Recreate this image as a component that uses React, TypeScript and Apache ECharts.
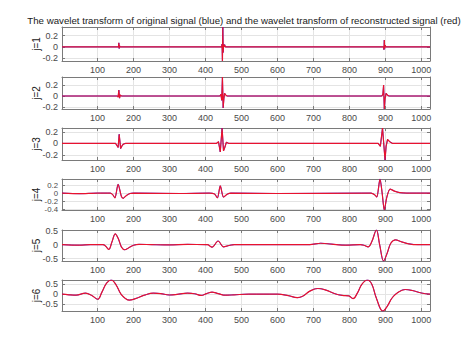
import React, { useEffect, useRef } from 'react';
import * as echarts from 'echarts';

const chartTitle =
  'The wavelet transform of original signal (blue) and the wavelet transform of reconstructed signal (red)';
const levelNames = ['j=1', 'j=2', 'j=3', 'j=4', 'j=5', 'j=6'];
const xTicks = [100, 200, 300, 400, 500, 600, 700, 800, 900, 1000];
const xMin = 1;
const xMax = 1024;

const yMins = [-0.25, -0.24, -0.29, -0.42, -0.58, -0.83];
const yMaxs = [0.35, 0.35, 0.27, 0.35, 0.52, 0.7];
const yTicks1 = [-0.2, 0, 0.2];
const yTicks2 = [-0.2, 0, 0.2];
const yTicks3 = [-0.2, 0, 0.2];
const yTicks4 = [-0.4, -0.2, 0, 0.2];
const yTicks5 = [-0.5, 0, 0.5];
const yTicks6 = [-0.5, 0, 0.5];

const j1: [number, number][] = [
  [1, 0], [158, 0], [159, 0.07], [160, -0.03], [161, 0.02], [162, 0],
  [445, 0], [446, 0.05], [447, -0.25], [448, 0.35], [449, -0.1], [450, 0.04], [451, 0], [453, 0.04], [455, 0],
  [895, 0], [896, -0.05], [897, 0.12], [898, -0.03], [899, 0.03], [901, 0], [1024, 0],
];
const j2: [number, number][] = [
  [1, 0], [155, 0], [157, -0.02], [159, 0.11], [161, -0.04], [163, 0.02], [166, 0],
  [440, 0], [443, 0.03], [445, -0.08], [447, 0.35], [449, -0.22], [451, -0.05], [453, 0.05], [456, 0.02], [460, 0],
  [890, 0], [893, 0.03], [895, 0.2], [897, -0.24], [899, -0.05], [902, 0.05], [905, 0.02], [910, 0], [1024, 0],
];
const j3: [number, number][] = [
  [1, 0], [150, 0], [154, -0.04], [157, -0.07], [160, 0.16], [164, -0.09], [168, -0.04], [172, -0.01], [178, 0],
  [430, 0], [436, 0.03], [441, -0.15], [446, 0.27], [450, -0.13], [453, -0.08], [458, 0.02], [465, 0],
  [880, 0], [886, -0.05], [892, 0.27], [899, -0.29], [902, -0.05], [906, 0.07], [912, 0.03], [920, 0], [1024, 0],
];
const j4: [number, number][] = [
  [1, 0], [50, -0.015], [100, 0], [135, 0], [142, -0.04], [148, -0.12], [157, 0.22], [166, -0.08], [171, -0.13],
  [180, -0.06], [190, -0.01], [200, 0], [330, -0.01], [410, 0], [425, -0.02], [433, -0.12], [441, 0.18],
  [450, -0.1], [460, -0.03], [470, 0], [600, -0.01], [860, 0], [870, -0.04], [876, -0.1], [885, 0.35],
  [891, 0], [897, -0.42], [904, -0.1], [913, 0.1], [925, 0.05], [940, 0.01], [960, 0], [1024, 0],
];
const j5: [number, number][] = [
  [1, 0], [50, -0.02], [80, 0], [115, 0], [122, -0.05], [131, -0.17], [140, 0.1], [149, 0.38], [158, 0.2],
  [166, -0.08], [175, -0.18], [188, -0.1], [200, -0.02], [215, 0.01], [250, 0], [300, -0.01], [350, 0.01],
  [400, 0], [405, 0], [418, -0.09], [435, 0.13], [450, -0.08], [465, -0.03], [480, 0], [600, 0], [650, 0],
  [690, 0], [720, 0.05], [750, 0.02], [790, -0.02], [830, 0], [840, -0.02], [852, -0.08], [862, 0.1],
  [875, 0.52], [884, 0], [895, -0.58], [905, -0.3], [915, 0.05], [928, 0.17], [945, 0.1], [965, 0.03],
  [990, 0], [1024, 0],
];
const j6: [number, number][] = [
  [1, 0], [20, -0.03], [40, -0.05], [66, 0.05], [85, -0.08], [100, -0.25], [112, 0.1], [125, 0.55], [138, 0.7],
  [150, 0.5], [165, 0], [178, -0.22], [188, -0.29], [205, -0.22], [230, -0.05], [255, 0.05], [275, 0.03],
  [300, -0.04], [325, 0], [350, 0.05], [370, 0.02], [388, -0.06], [403, 0.03], [418, 0.1], [435, 0.03],
  [455, -0.05], [480, -0.03], [520, 0], [600, 0], [630, -0.07], [655, -0.17], [670, -0.1], [690, 0.15],
  [712, 0.28], [735, 0.2], [760, 0.02], [780, -0.06], [798, -0.08], [810, -0.22], [822, 0.05], [835, 0.5],
  [850, 0.7], [862, 0.5], [875, -0.2], [893, -0.83], [905, -0.6], [918, -0.2], [932, 0.05], [955, 0.23],
  [975, 0.18], [1000, 0.06], [1024, 0],
];

const levels = [j1, j2, j3, j4, j5, j6];
const yTickSets = [yTicks1, yTicks2, yTicks3, yTicks4, yTicks5, yTicks6];
const smoothFlags = [false, false, false, 0.25, 0.35, 0.4];

export default function App() {
  const ref = useRef<HTMLDivElement>(null);
  useEffect(() => {
    const chart = echarts.init(ref.current!, null, { renderer: 'svg' });
    const tops = [27, 77, 128, 179, 230, 280];
    const heights = [34, 32, 32, 31, 31, 31];
    const yLabelSizes = [9, 9, 9, 7.8, 9, 9];
    const font = 'Liberation Sans, Arial, sans-serif';
    const boxColor = '#7a7a7a';
    const gridColor = '#e4e4e4';
    const labelColor = '#4a4a4a';
    const fmt = (v: number) => String(Math.round(v * 100) / 100);

    const grids: any[] = [];
    const xAxes: any[] = [];
    const yAxes: any[] = [];
    const series: any[] = [];

    levels.forEach((data, i) => {
      const ticks = yTickSets[i];
      const evenTicks = ticks.filter((_, k) => k % 2 === 0);
      const oddTicks = ticks.filter((_, k) => k % 2 === 1);
      const ls = yLabelSizes[i];
      grids.push({ left: 62, width: 368, top: tops[i], height: heights[i], containLabel: false });
      xAxes.push({
        type: 'value', gridIndex: i, min: xMin, max: xMax, position: 'bottom',
        axisLine: { show: true, onZero: false, lineStyle: { color: boxColor, width: 1 } },
        axisTick: { show: true, inside: true, length: 3, customValues: xTicks, lineStyle: { color: boxColor } },
        axisLabel: {
          show: true, customValues: xTicks, margin: 4, fontSize: 9, color: labelColor, fontFamily: font,
          formatter: fmt, showMinLabel: true, showMaxLabel: true,
        },
        splitLine: { show: true, lineStyle: { color: gridColor, width: 1 } },
      });
      xAxes.push({
        type: 'value', gridIndex: i, min: xMin, max: xMax, position: 'top',
        axisLine: { show: true, onZero: false, lineStyle: { color: boxColor, width: 1 } },
        axisTick: { show: true, inside: true, length: 3, customValues: xTicks, lineStyle: { color: boxColor } },
        axisLabel: { show: false },
        splitLine: { show: false },
      });
      yAxes.push({
        type: 'value', gridIndex: i, min: yMins[i], max: yMaxs[i], position: 'left',
        name: levelNames[i], nameLocation: 'middle', nameGap: 21, nameRotate: 90, nameMoveOverlap: false,
        nameTextStyle: { fontSize: 10, color: '#222', fontFamily: font },
        axisLine: { show: true, onZero: false, lineStyle: { color: boxColor, width: 1 } },
        axisTick: { show: true, inside: true, length: 3, customValues: ticks, lineStyle: { color: boxColor } },
        axisLabel: {
          show: true, customValues: evenTicks, margin: 4, fontSize: ls, lineHeight: ls, color: labelColor,
          fontFamily: font, formatter: fmt, showMinLabel: true, showMaxLabel: true, hideOverlap: false,
        },
        splitLine: { show: true, lineStyle: { color: gridColor, width: 1 } },
      });
      yAxes.push({
        type: 'value', gridIndex: i, min: yMins[i], max: yMaxs[i], position: 'right',
        axisLine: { show: true, onZero: false, lineStyle: { color: boxColor, width: 1 } },
        axisTick: { show: true, inside: true, length: 3, customValues: ticks, lineStyle: { color: boxColor } },
        axisLabel: { show: false },
        splitLine: { show: false },
      });
      yAxes.push({
        type: 'value', gridIndex: i, min: yMins[i], max: yMaxs[i], position: 'left', offset: 0,
        axisLine: { show: false },
        axisTick: { show: false },
        axisLabel: {
          show: oddTicks.length > 0, customValues: oddTicks.length ? oddTicks : [0], margin: 4, fontSize: ls,
          lineHeight: ls, color: labelColor, fontFamily: font, formatter: fmt, showMinLabel: true,
          showMaxLabel: true, hideOverlap: false,
        },
        splitLine: { show: false },
      });
      series.push({
        type: 'line', xAxisIndex: 2 * i, yAxisIndex: 3 * i, data, showSymbol: false, symbol: 'none',
        smooth: smoothFlags[i], lineStyle: { color: '#1a1aff', width: 0.9 }, z: 2,
      });
      series.push({
        type: 'line', xAxisIndex: 2 * i, yAxisIndex: 3 * i, data, showSymbol: false, symbol: 'none',
        smooth: smoothFlags[i], lineStyle: { color: '#e8132e', width: 1.2 }, z: 3,
      });
    });

    chart.setOption({
      animation: false,
      backgroundColor: '#ffffff',
      grid: grids,
      xAxis: xAxes,
      yAxis: yAxes,
      series,
      graphic: [
        {
          type: 'text', x: 244, y: 20,
          style: {
            text: chartTitle, fontSize: 9.7, fill: '#1a1a1a', fontFamily: font,
            textAlign: 'center', textVerticalAlign: 'middle',
          },
        },
      ],
    });
    return () => chart.dispose();
  }, []);
  return <div ref={ref} style={{ position: 'absolute', left: 0, top: 0, width: 474, height: 355 }} />;
}
